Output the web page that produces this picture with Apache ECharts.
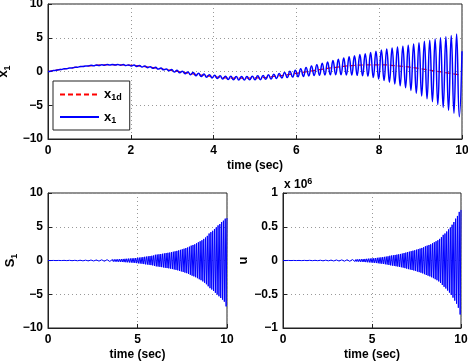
<!DOCTYPE html>
<html>
<head>
<meta charset="utf-8">
<script src="https://cdn.jsdelivr.net/npm/echarts@6/dist/echarts.min.js"></script>
<style>
  html, body { margin: 0; padding: 0; background: #fff; }
  #chart { width: 468px; height: 362px; }
</style>
</head>
<body>
<div id="chart"></div>
<script>
// 数据
// x1: crest / trough values, one every half period, 0..10 s
const X1_STEP = 10 / 154
const x1Values = [
  0, 0.045, 0.15, 0.174, 0.277, 0.299, 0.40, 0.419, 0.517, 0.532,
  0.625, 0.636, 0.723, 0.728, 0.809, 0.808, 0.912, 0.844, 0.971, 0.894,
  1.014, 0.929, 1.04, 0.947, 1.05, 0.949, 1.043, 0.933, 1.019, 0.901,
  0.979, 0.803, 0.973, 0.740, 0.902, 0.662, 0.818, 0.571, 0.722, 0.470,
  0.616, 0.359, 0.501, 0.241, 0.379, 0.116, 0.301, -0.064, 0.172, -0.193,
  0.042, -0.323, -0.056, -0.478, -0.16, -0.618, -0.276, -0.73, -0.385, -0.836,
  -0.468, -0.951, -0.555, -1.035, -0.631, -1.103, -0.693, -1.188, -0.708, -1.225,
  -0.737, -1.246, -0.75, -1.249, -0.745, -1.236, -0.704, -1.229, -0.638, -1.212,
  -0.583, -1.16, -0.495, -1.106, -0.393, -1.038, -0.279, -0.958, -0.135, -0.9,
  0.03, -0.83, 0.2, -0.778, 0.408, -0.727, 0.607, -0.658, 0.807, -0.598,
  1.005, -0.552, 1.21, -0.51, 1.408, -0.486, 1.616, -0.482, 1.815, -0.49,
  2.002, -0.506, 2.186, -0.53, 2.351, -0.572, 2.502, -0.63, 2.634, -0.706,
  2.799, -0.9, 2.996, -1.112, 3.175, -1.341, 3.339, -1.586, 3.485, -1.847,
  3.617, -2.122, 3.735, -2.41, 3.891, -2.81, 4.087, -3.22, 4.272, -3.638,
  4.469, -4.043, 4.644, -4.47, 4.816, -4.9, 4.985, -5.33, 5.156, -5.757,
  5.331, -6.18, 5.562, -6.694, 3.0
]
// x1d: desired trajectory
const x1dTimes = [0, 0.5, 1, 1.5, 2, 2.5, 3, 3.5, 4, 4.5, 5, 5.5, 6, 6.5, 7, 7.5, 8, 8.5, 9, 9.5, 10]
const x1dValues = [0, 0.479, 0.841, 0.997, 0.909, 0.598, 0.141, -0.351, -0.757, -0.978, -0.959,
  -0.706, -0.279, 0.215, 0.657, 0.938, 0.989, 0.798, 0.412, -0.075, -0.544]

// S1 and u, one value every 0.05 s (each row = 0.5 s)
const S_STEP = 0.05
const s1Values = [
  0, -0.01, 0.01, -0.01, 0.01, -0.01, 0.01, -0.01, 0.01, -0.01,
  0.01, -0.01, 0.01, -0.01, 0.01, -0.01, 0.01, -0.02, 0.02, -0.02,
  0.02, -0.02, 0.02, -0.02, 0.03, -0.03, 0.03, -0.03, 0.03, -0.03,
  0.03, -0.03, 0.03, -0.04, 0.04, -0.04, 0.04, -0.04, 0.05, -0.05,
  0.05, -0.05, 0.05, -0.06, 0.06, -0.06, 0.06, -0.07, 0.07, -0.07,
  0.07, -0.07, 0.07, -0.08, 0.08, -0.08, 0.08, -0.09, 0.09, -0.1,
  0.1, -0.1, 0.1, -0.11, 0.11, -0.12, 0.12, -0.13, 0.13, -0.14,
  0.14, -0.15, 0.15, -0.16, 0.16, -0.17, 0.17, -0.18, 0.18, -0.19,
  0.2, -0.21, 0.21, -0.22, 0.23, -0.24, 0.25, -0.26, 0.26, -0.27,
  0.28, -0.29, 0.3, -0.31, 0.32, -0.33, 0.34, -0.36, 0.37, -0.39,
  0.4, -0.42, 0.43, -0.45, 0.46, -0.48, 0.5, -0.53, 0.55, -0.57,
  0.58, -0.6, 0.62, -0.64, 0.66, -0.68, 0.7, -0.73, 0.75, -0.8,
  0.85, -0.87, 0.88, -0.9, 0.92, -0.94, 0.96, -0.98, 1.0, -1.03,
  1.05, -1.08, 1.1, -1.12, 1.14, -1.16, 1.18, -1.21, 1.24, -1.27,
  1.3, -1.33, 1.36, -1.39, 1.42, -1.46, 1.5, -1.54, 1.58, -1.62,
  1.66, -1.7, 1.75, -1.8, 1.84, -1.88, 1.93, -2.0, 2.05, -2.12,
  2.2, -2.25, 2.3, -2.35, 2.4, -2.48, 2.55, -2.62, 2.7, -2.78,
  2.85, -2.92, 3.0, -3.1, 3.2, -3.3, 3.4, -3.52, 3.65, -3.82,
  4.0, -4.1, 4.2, -4.3, 4.4, -4.52, 4.65, -4.78, 4.9, -5.05,
  5.2, -5.3, 5.4, -5.55, 5.7, -5.8, 5.9, -6.1, 6.2, -6.8,
  6.3
]
// u in units of 10^6
const uValues = [
  0, -0.001, 0.001, -0.001, 0.001, -0.001, 0.001, -0.001, 0.001, -0.001,
  0.001, -0.001, 0.001, -0.001, 0.001, -0.001, 0.001, -0.001, 0.001, -0.001,
  0.002, -0.002, 0.002, -0.002, 0.002, -0.002, 0.002, -0.002, 0.002, -0.002,
  0.003, -0.003, 0.003, -0.003, 0.003, -0.003, 0.003, -0.003, 0.003, -0.003,
  0.004, -0.004, 0.004, -0.004, 0.004, -0.005, 0.005, -0.005, 0.005, -0.005,
  0.005, -0.005, 0.006, -0.006, 0.006, -0.006, 0.006, -0.007, 0.007, -0.007,
  0.008, -0.008, 0.008, -0.008, 0.009, -0.009, 0.009, -0.009, 0.01, -0.01,
  0.011, -0.011, 0.011, -0.012, 0.012, -0.012, 0.013, -0.013, 0.014, -0.014,
  0.015, -0.015, 0.016, -0.016, 0.017, -0.017, 0.018, -0.019, 0.02, -0.02,
  0.021, -0.022, 0.023, -0.024, 0.025, -0.026, 0.027, -0.028, 0.029, -0.03,
  0.032, -0.033, 0.034, -0.035, 0.037, -0.038, 0.04, -0.041, 0.043, -0.045,
  0.046, -0.048, 0.05, -0.052, 0.054, -0.056, 0.058, -0.06, 0.062, -0.066,
  0.07, -0.072, 0.074, -0.076, 0.078, -0.08, 0.082, -0.085, 0.087, -0.09,
  0.092, -0.095, 0.097, -0.1, 0.103, -0.106, 0.11, -0.113, 0.117, -0.121,
  0.125, -0.128, 0.131, -0.134, 0.138, -0.141, 0.145, -0.148, 0.152, -0.156,
  0.16, -0.164, 0.168, -0.172, 0.177, -0.181, 0.186, -0.191, 0.196, -0.203,
  0.21, -0.215, 0.22, -0.225, 0.23, -0.235, 0.24, -0.248, 0.255, -0.262,
  0.27, -0.277, 0.285, -0.292, 0.3, -0.31, 0.32, -0.332, 0.345, -0.362,
  0.38, -0.39, 0.4, -0.415, 0.43, -0.445, 0.46, -0.475, 0.49, -0.51,
  0.53, -0.55, 0.57, -0.595, 0.62, -0.64, 0.66, -0.7, 0.72, -0.8,
  0.75
]

const FONT = 'Liberation Sans, Arial, Helvetica, sans-serif'
const minus = v => String(v).replace('-', '\u2212')

const subRich = {
  a: { fontFamily: FONT, fontSize: 13, fontWeight: 'bold', color: '#000' },
  b: { fontFamily: FONT, fontSize: 9, fontWeight: 'bold', color: '#000', padding: [7, 0, 0, 0] }
}

const xAxisBase = (gridIndex, interval) => ({
  gridIndex,
  type: 'value',
  min: 0,
  max: 10,
  interval,
  name: 'time (sec)',
  nameLocation: 'middle',
  nameGap: 21,
  nameTextStyle: { fontFamily: FONT, fontSize: 12, fontWeight: 'bold', color: '#000' },
  axisLine: { onZero: false, lineStyle: { color: '#222', width: 1 } },
  axisTick: { inside: true, length: 4, lineStyle: { color: '#222' } },
  axisLabel: { margin: 6, fontFamily: FONT, fontSize: 12, fontWeight: 'bold', color: '#000' },
  splitLine: { show: true, lineStyle: { type: [1, 3], color: '#999' } }
})

const yAxisBase = (gridIndex, min, max, interval, name, nameGap) => ({
  gridIndex,
  type: 'value',
  min,
  max,
  interval,
  name,
  nameLocation: 'middle',
  nameGap,
  nameRotate: 90,
  nameTextStyle: { rich: subRich, fontFamily: FONT, fontSize: 13, fontWeight: 'bold', color: '#000' },
  axisLine: { onZero: false, lineStyle: { color: '#222', width: 1 } },
  axisTick: { inside: true, length: 4, lineStyle: { color: '#222' } },
  axisLabel: { margin: 5, fontFamily: FONT, fontSize: 12, fontWeight: 'bold', color: '#000', formatter: minus },
  splitLine: { show: true, lineStyle: { type: [1, 3], color: '#999' } }
})

const gridBase = (left, top, width) => ({
  left, top, width, height: 135,
  outerBoundsMode: 'none',
  containLabel: false,
  show: true,
  borderColor: '#222',
  borderWidth: 1
})

const chart = echarts.init(document.getElementById('chart'))

const initOption = {
  animation: false,
  backgroundColor: '#fff',
  grid: [gridBase(48, 4, 414), gridBase(48, 193, 179), gridBase(283, 193, 178)],
  xAxis: [xAxisBase(0, 2), xAxisBase(1, 5), xAxisBase(2, 5)],
  yAxis: [
    yAxisBase(0, -10, 10, 5, '{a|x}{b|1}', 22),
    yAxisBase(1, -10, 10, 5, '{a|S}{b|1}', 21),
    yAxisBase(2, -1, 1, 0.5, '{a|u}', 25)
  ],
  legend: {
    orient: 'vertical',
    left: 53,
    top: 81,
    width: 74,
    itemWidth: 39,
    itemHeight: 10,
    itemGap: 8,
    padding: [7, 8, 5, 6],
    backgroundColor: '#fff',
    borderColor: '#222',
    borderWidth: 1,
    borderRadius: 0,
    itemStyle: { opacity: 0 },
    data: ['x1d', 'x1'],
    formatter: name => (name === 'x1d' ? '{a|x}{b|1d}' : '{a|x}{b|1}'),
    textStyle: { rich: subRich }
  },
  graphic: [
    {
      type: 'text',
      left: 284,
      top: 177,
      style: {
        text: 'x 10{s|6}',
        fontFamily: FONT,
        fontSize: 12,
        fontWeight: 'bold',
        fill: '#000',
        rich: { s: { fontFamily: FONT, fontSize: 9, fontWeight: 'bold', fill: '#000', padding: [0, 0, 7, 0] } }
      }
    }
  ],
  series: [
    {
      name: 'x1d',
      type: 'line',
      xAxisIndex: 0,
      yAxisIndex: 0,
      symbol: 'none',
      smooth: true,
      z: 1,
      lineStyle: { color: '#ff0000', width: 1.2, type: [5, 3] },
      itemStyle: { color: '#ff0000' },
      data: x1dTimes.map((t, i) => [t, x1dValues[i]])
    },
    {
      name: 'x1',
      type: 'line',
      xAxisIndex: 0,
      yAxisIndex: 0,
      symbol: 'none',
      smooth: 0.5,
      z: 2,
      lineStyle: { color: '#0000ff', width: 1.5 },
      itemStyle: { color: '#0000ff' },
      data: x1Values.map((v, i) => [i * X1_STEP, v])
    },
    {
      name: 'S1',
      type: 'line',
      xAxisIndex: 1,
      yAxisIndex: 1,
      symbol: 'none',
      lineStyle: { color: '#0000ff', width: 1 },
      data: s1Values.map((v, i) => [i * S_STEP, v])
    },
    {
      name: 'u',
      type: 'line',
      xAxisIndex: 2,
      yAxisIndex: 2,
      symbol: 'none',
      lineStyle: { color: '#0000ff', width: 1 },
      data: uValues.map((v, i) => [i * S_STEP, v])
    }
  ]
}

chart.setOption(initOption)
</script>
</body>
</html>
